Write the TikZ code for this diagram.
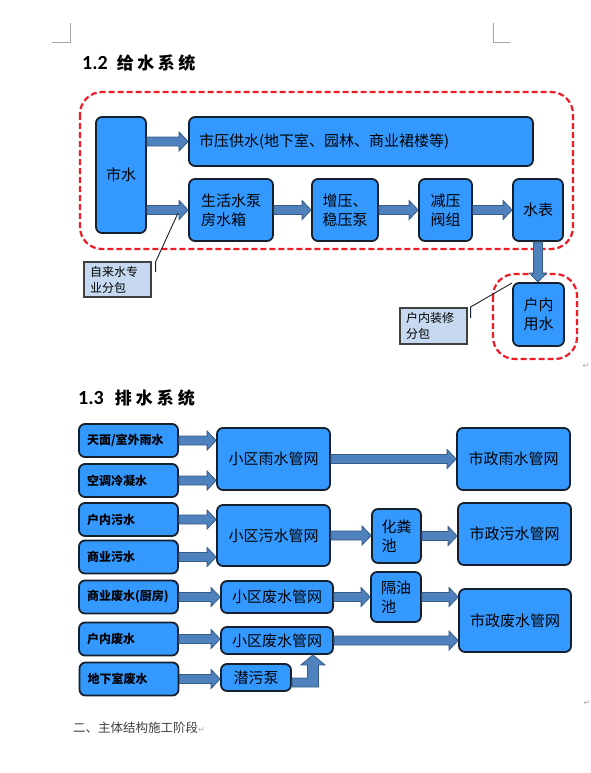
\documentclass[tikz,border=0pt]{standalone}
\usepackage{fontspec}
\setmainfont{Liberation Serif}
\newfontfamily\cjk{Noto Sans CJK SC}
\newfontfamily\numfont{Carlito}
\newfontfamily\symfont{DejaVu Sans}
\usetikzlibrary{calc}
\definecolor{boxblue}{HTML}{3399FF}
\definecolor{boxedge}{HTML}{14202E}
\definecolor{pipefill}{HTML}{4F81BD}
\definecolor{pipeedge}{HTML}{385D8A}
\definecolor{zonered}{HTML}{EE1C25}
\definecolor{notefill}{HTML}{C6D9F1}
\definecolor{noteedge}{HTML}{404040}
\definecolor{markgray}{HTML}{A6A6A6}
\definecolor{bodytext}{HTML}{404040}
\tikzset{
  box/.style={rounded corners=6pt,draw=boxedge,line width=1.8pt,fill=boxblue,
    inner sep=0pt,align=center,font=\cjk\fontsize{15}{19}\selectfont},
  srcbox/.style={box,minimum width=99pt,minimum height=33pt,text width=83pt,
    align=left,font=\cjk\bfseries\fontsize{12}{15}\selectfont},
  note/.style={draw=noteedge,line width=1.2pt,fill=notefill,inner sep=0pt,
    text width=55pt,align=left,font=\cjk\fontsize{12}{16}\selectfont},
  pipe/.style={fill=pipefill,draw=pipeedge,line width=.8pt,line join=miter},
  zone/.style={draw=zonered,line width=2.2pt,dash pattern=on 6pt off 3pt,
    rounded corners=22pt},
  leader/.style={draw=boxedge,line width=.9pt},
  cropmark/.style={draw=markgray,line width=.8pt},
  paratitle/.style={anchor=west,inner sep=0pt},
  retmark/.style={font=\symfont\fontsize{8}{8}\selectfont,text=markgray,inner sep=0pt},
}
% horizontal block arrow, drawn at the height of the first point
\newcommand\pipearrow[2]{%
  \path[pipe] let \p1=#1, \p2=#2 in
    (\x1,\y1+4.5pt) -- (\x2-9pt,\y1+4.5pt) -- (\x2-9pt,\y1+9.5pt) -- (\x2,\y1)
    -- (\x2-9pt,\y1-9.5pt) -- (\x2-9pt,\y1-4.5pt) -- (\x1,\y1-4.5pt) -- cycle;}
\begin{document}
\begin{tikzpicture}[x=1pt,y=-1pt]
\useasboundingbox[fill=white] (0,0) rectangle (591,773);
\draw[cropmark] (52,42) -- (70,42) -- (70,23);
\draw[cropmark] (493,23) -- (493,42) -- (510,42);
% 1.2 water supply
\node[paratitle] (title1) at (82,63) {{\numfont\bfseries\fontsize{20}{20}\selectfont 1.2}\hspace{9pt}{\cjk\bfseries\fontsize{17}{17}\selectfont 给\hspace{3.5pt}水\hspace{3.5pt}系\hspace{3.5pt}统}};
\draw[zone] (80,92) rectangle (573,249);
\draw[zone] (493,274) rectangle (577,359);
\node[box,minimum width=50pt,minimum height=116pt] (shi) at (121,175) {市水};
\node[box,minimum width=344pt,minimum height=49pt,text width=324pt,align=left] (shiya) at (361,141.5) {市压供水(地下室、园林、商业裙楼等)};
\node[box,minimum width=84pt,minimum height=62pt,align=left] (pump) at (231,210) {生活水泵\\房水箱};
\node[box,minimum width=66pt,minimum height=62pt,align=left] (boost) at (345,210) {增压、\\稳压泵};
\node[box,minimum width=53pt,minimum height=62pt,align=left] (prv) at (445.5,210) {减压\\阀组};
\node[box,minimum width=50pt,minimum height=62pt] (meter) at (538,210) {水表};
\node[box,minimum width=51pt,minimum height=63pt] (indoor) at (538.5,314.5) {户内\\用水};
\pipearrow{(shi.east |- shiya.west)}{(shiya.west)}
\pipearrow{(shi.east |- pump.west)}{(pump.west)}
\path[pipe] let \p1=(meter.south), \p2=(indoor.north) in
  (\x1-4.5pt,\y1) -- (\x1-4.5pt,\y2+9pt) -- (\x1-8.5pt,\y2+9pt) -- (\x1,\y2)
  -- (\x1+8.5pt,\y2+9pt) -- (\x1+4.5pt,\y2+9pt) -- (\x1+4.5pt,\y1) -- cycle;
\node[note,minimum width=67pt,minimum height=35pt] (note1) at (117.5,279.5) {自来水专\\业分包};
\node[note,minimum width=67pt,minimum height=36pt] (note2) at (433.5,326) {户内装修\\分包};
\coordinate (tip1) at (178,213);
\coordinate (tip2) at (512,283);
\draw[leader] ($(note1.east)+(4,-7.5)$) -- ++(0,-10) -- (tip1);
\draw[leader] ($(note2.east)+(3,-8)$) -- ++(0,-11) -- (tip2);
\node[retmark] (ret1) at (586,366) {↵};
% 1.3 drainage
\node[paratitle] (title2) at (78,398) {{\numfont\bfseries\fontsize{20}{20}\selectfont 1.3}\hspace{11pt}{\cjk\bfseries\fontsize{17}{17}\selectfont 排\hspace{4pt}水\hspace{4pt}系\hspace{4pt}统}};
\node[srcbox] (s1) at (128.5,440.5) {天面/室外雨水};
\node[srcbox] (s2) at (128.5,480.5) {空调冷凝水};
\node[srcbox] (s3) at (128.5,519.5) {户内污水};
\node[srcbox] (s4) at (128.5,557) {商业污水};
\node[srcbox] (s5) at (128.5,597) {商业废水(厨房)};
\node[srcbox] (s6) at (128.5,639) {户内废水};
\node[srcbox] (s7) at (129,679) {地下室废水};
\node[box,minimum width=113pt,minimum height=62pt] (rain) at (273.5,459) {小区雨水管网};
\node[box,minimum width=113pt,minimum height=61pt] (sew) at (273.5,535.5) {小区污水管网};
\node[box,minimum width=112pt,minimum height=32pt] (waste1) at (277,597) {小区废水管网};
\node[box,minimum width=112pt,minimum height=27pt] (waste2) at (277,640.5) {小区废水管网};
\node[box,minimum width=70pt,minimum height=27pt] (pump2) at (256,677.5) {潜污泵};
\node[box,minimum width=49pt,minimum height=54pt,align=left] (septic) at (396.5,536) {化粪\\池};
\node[box,minimum width=50pt,minimum height=50pt,align=left] (grease) at (396,597) {隔油\\池};
\node[box,minimum width=113pt,minimum height=62pt] (cityrain) at (513.5,459) {市政雨水管网};
\node[box,minimum width=113pt,minimum height=62pt] (citysew) at (514.5,534) {市政污水管网};
\node[box,minimum width=112pt,minimum height=63pt] (citywaste) at (515,620.5) {市政废水管网};
\foreach \a/\b in {pump/boost,boost/prv,prv/meter,s1/rain,s2/rain,s3/sew,s4/sew,s5/waste1,s6/waste2,s7/pump2,rain/cityrain,sew/septic,septic/citysew,waste1/grease,grease/citywaste,waste2/citywaste}
  {\pipearrow{(\a.east)}{(\a.east -| \b.west)}}
\path[pipe] let \p1=(pump2.east), \p2=(waste2.south) in
  (\x1,\y1-0.5pt) -- (\x1+15.5pt,\y1-0.5pt) -- (\x1+15.5pt,\y2-10pt) -- (\x1+9pt,\y2-10pt)
  -- (\x1+21pt,\y2) -- (\x1+33pt,\y2-10pt) -- (\x1+26.5pt,\y2-10pt) -- (\x1+26.5pt,\y1-9.5pt)
  -- (\x1,\y1-9.5pt) -- cycle;
\node[retmark] (ret2) at (587,703) {↵};
\node[paratitle,text=bodytext,font=\cjk\fontsize{12.5}{15}\selectfont] (next) at (73,728) {二、主体结构施工阶段\textcolor{markgray}{\symfont\fontsize{8}{8}\selectfont ↵}};
\end{tikzpicture}
\end{document}
